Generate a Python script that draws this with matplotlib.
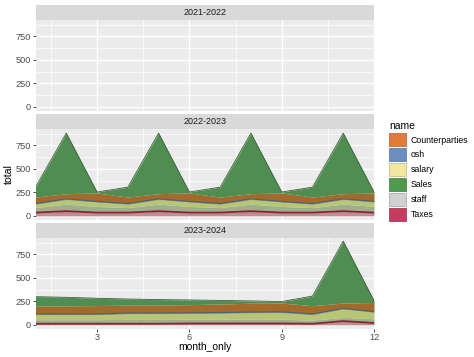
import matplotlib
matplotlib.use('Agg')
import matplotlib.pyplot as plt
import numpy as np
from matplotlib.patches import Patch

plt.rcParams['font.family'] = ['Liberation Sans', 'DejaVu Sans']

# ---------------- data ----------------
months = [1, 2, 3, 4, 5, 6, 7, 8, 9, 10, 11, 12]
periods = ['2021-2022', '2022-2023', '2023-2024']
legend_names = ['Counterparties', 'osh', 'salary', 'Sales', 'staff', 'Taxes']

# 2022-2023 (values per month, stacked bottom -> top: Taxes, staff, salary, osh, Counterparties, Sales)
taxes_2223 = [35, 50, 35, 35, 50, 35, 35, 50, 35, 35, 50, 35]
staff_2223 = [53, 75, 65, 53, 75, 65, 53, 75, 65, 53, 75, 65]
salary_2223 = [37, 50, 48, 37, 50, 48, 37, 50, 48, 37, 50, 48]
osh_2223 = [6, 6, 6, 6, 6, 6, 6, 6, 6, 6, 6, 6]
counter_2223 = [69, 55, 90, 69, 55, 90, 69, 55, 90, 69, 55, 90]
sales_2223 = [105, 644, 10, 105, 644, 10, 105, 644, 10, 105, 644, 10]

# 2023-2024
taxes_2324 = [12, 12, 12, 12, 12, 15, 15, 15, 15, 12, 40, 20]
staff_2324 = [43, 43, 43, 46, 46, 45, 45, 45, 45, 38, 40, 45]
salary_2324 = [55, 55, 55, 62, 62, 62, 65, 70, 72, 60, 90, 70]
osh_2324 = [6, 6, 6, 6, 6, 6, 6, 6, 6, 6, 6, 6]
counter_2324 = [84, 86, 89, 84, 86, 87, 91, 94, 94, 88, 56, 97]
sales_2324 = [100, 91, 78, 65, 57, 50, 38, 25, 16, 102, 658, 20]

panel_data = {
    '2021-2022': None,
    '2022-2023': [taxes_2223, staff_2223, salary_2223, osh_2223, counter_2223, sales_2223],
    '2023-2024': [taxes_2324, staff_2324, salary_2324, osh_2324, counter_2324, sales_2324],
}

# ---------------- style ----------------
fill_cols = ['#BC8F95', '#9DB08C', '#B8C575', '#4F6B7E', '#A46A2B', '#4F8E50']
top_lines = ['#8C2233', None, None, '#4A6470', None, '#3E5E3E']
top_lw = [1.3, 0, 0, 0.8, 0, 0.6]
legend_cols = ['#E07B39', '#6C8EBF', '#F2E6A0', '#4E9A4E', '#D0D0D0', '#C43B5E']
legend_edges = ['#B0602A', '#4E6E9E', '#BDB27A', '#3C7A3C', '#A0A0A0', '#99284A']

W, H = 474, 357
fig = plt.figure(figsize=(W / 100, H / 100), dpi=100)
fig.patch.set_facecolor('white')

left, right = 35.5, 374
panels_y = [(20, 111), (129, 220), (238, 329)]
strip_h = 15

def fx(px):
    return px / W

def fy(py):
    return 1 - py / H

for i, (period, (top, bot)) in enumerate(zip(periods, panels_y)):
    ax = fig.add_axes([fx(left), fy(bot), fx(right - left), (bot - top) / H])
    ax.set_facecolor('#EBEBEB')
    for s in ax.spines.values():
        s.set_visible(False)
    ax.set_xlim(1, 12)
    ax.set_ylim(-44, 924)
    ax.set_xticks([3, 6, 9, 12])
    ax.set_xticks([1.5, 4.5, 7.5, 10.5], minor=True)
    ax.set_yticks([0, 250, 500, 750])
    ax.set_yticks([125, 375, 625, 875], minor=True)
    ax.set_axisbelow(True)
    ax.grid(which='major', color='white', linewidth=1.0)
    ax.grid(which='minor', color='white', linewidth=0.5)
    ax.tick_params(which='minor', length=0)
    ax.tick_params(which='major', length=2.0, width=0.6, color='#333333',
                   labelsize=6.6, labelcolor='#4D4D4D', pad=1.2)
    if i < 2:
        ax.tick_params(axis='x', which='major', labelbottom=False, length=0)

    data = panel_data[period]
    if data is not None:
        cum = np.cumsum(np.array(data, dtype=float), axis=0)
        base = np.zeros(len(months))
        for k in range(len(data)):
            ax.fill_between(months, base, cum[k], color=fill_cols[k], linewidth=0, zorder=2 + k * 0.01)
            if top_lines[k]:
                ax.plot(months, cum[k], color=top_lines[k], linewidth=top_lw[k], zorder=3)
            base = cum[k]

    sax = fig.add_axes([fx(left), fy(top), fx(right - left), strip_h / H])
    sax.set_facecolor('#D9D9D9')
    sax.set_xticks([])
    sax.set_yticks([])
    for s in sax.spines.values():
        s.set_visible(False)
    sax.text(0.5, 0.5, period, ha='center', va='center', fontsize=6.5, color='#1A1A1A',
             transform=sax.transAxes)

fig.text(fx(9), fy(174), 'total', rotation=90, ha='center', va='center', fontsize=7.6, color='black')
fig.text(fx((left + right) / 2), fy(342), 'month_only', ha='center', va='top', fontsize=7.5, color='black')

handles = [Patch(facecolor=c, edgecolor=e, linewidth=0.5) for c, e in zip(legend_cols, legend_edges)]
leg = fig.legend(handles, legend_names, title='name', loc='upper left',
                 bbox_to_anchor=(fx(385), fy(117)), frameon=False, fontsize=6.3,
                 title_fontsize=7.5, handlelength=1.9, handleheight=1.9, labelspacing=0.22,
                 handletextpad=0.55, borderpad=0, alignment='left')

fig.savefig('out.png', dpi=100)
